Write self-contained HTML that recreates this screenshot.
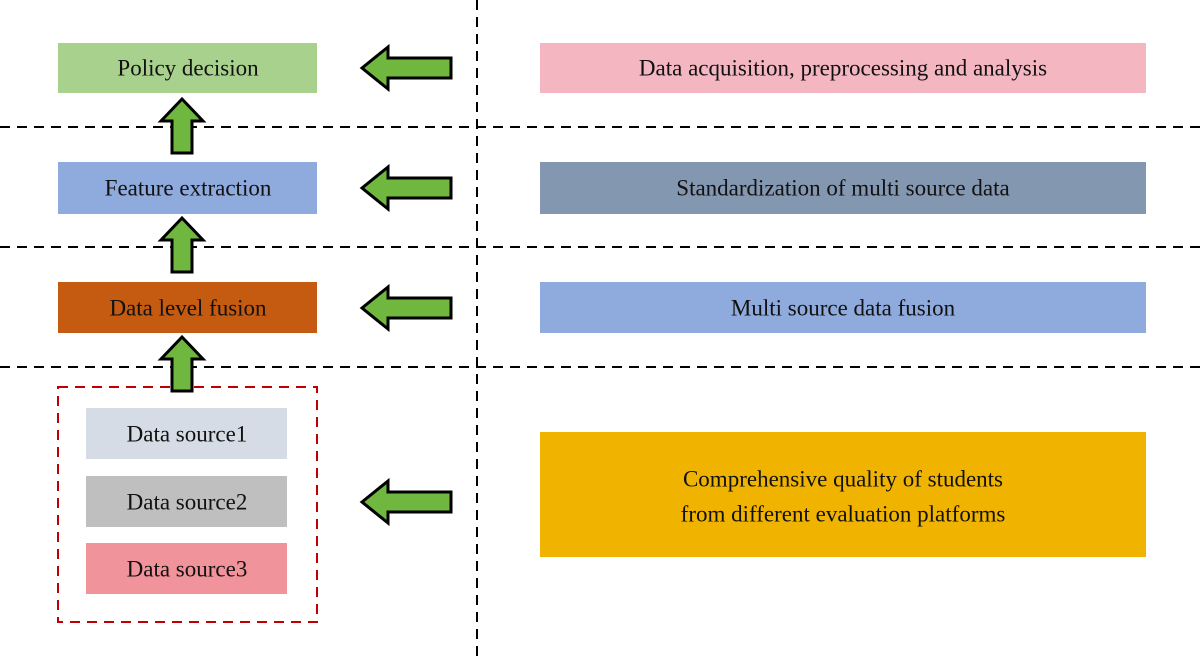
<!DOCTYPE html>
<html><head><meta charset="utf-8"><style>
html,body{margin:0;padding:0;background:#fff;}
svg text{font-family:"Liberation Serif",serif;font-size:23px;fill:#111;text-anchor:middle;dominant-baseline:central;}
</style></head><body>
<svg width="1200" height="660" viewBox="0 0 1200 660" xmlns="http://www.w3.org/2000/svg">
<defs>
<path id="la" d="M0,0 L26,-21 L26,-10 L89,-10 L89,10 L26,10 L26,21 Z" fill="#70b740" stroke="#000" stroke-width="3" stroke-linejoin="miter"/>
<path id="ua" d="M0,0 L21,22 L10,22 L10,54 L-10,54 L-10,22 L-21,22 Z" fill="#70b740" stroke="#000" stroke-width="3"/>
</defs>
<g stroke="#000" stroke-width="2" stroke-dasharray="10,7" fill="none">
<line x1="477" y1="0" x2="477" y2="660"/>
<line x1="0" y1="127" x2="1200" y2="127"/>
<line x1="0" y1="247" x2="1200" y2="247"/>
<line x1="0" y1="367" x2="1200" y2="367"/>
</g>
<rect x="58" y="387" width="259" height="235" fill="none" stroke="#c00000" stroke-width="2" stroke-dasharray="10,7"/>
<rect x="58" y="43" width="259" height="50" fill="#a9d18e"/>
<rect x="58" y="162" width="259" height="52" fill="#8faadc"/>
<rect x="58" y="282" width="259" height="51" fill="#c55a11"/>
<rect x="86" y="408" width="201" height="51" fill="#d6dce5"/>
<rect x="86" y="476" width="201" height="51" fill="#bfbfbf"/>
<rect x="86" y="543" width="201" height="51" fill="#f0939b"/>
<rect x="540" y="43" width="606" height="50" fill="#f4b6c0"/>
<rect x="540" y="162" width="606" height="52" fill="#8497b0"/>
<rect x="540" y="282" width="606" height="51" fill="#8faadc"/>
<rect x="540" y="432" width="606" height="125" fill="#f0b400"/>
<use href="#la" x="362" y="68"/>
<use href="#la" x="362" y="188"/>
<use href="#la" x="362" y="308"/>
<use href="#la" x="362" y="502"/>
<use href="#ua" x="182" y="99"/>
<use href="#ua" x="182" y="218"/>
<use href="#ua" x="182" y="337"/>
<text x="188" y="68">Policy decision</text>
<text x="188" y="188">Feature extraction</text>
<text x="188" y="308">Data level fusion</text>
<text x="187" y="434">Data source1</text>
<text x="187" y="502">Data source2</text>
<text x="187" y="569">Data source3</text>
<text x="843" y="68">Data acquisition, preprocessing and analysis</text>
<text x="843" y="188">Standardization of multi source data</text>
<text x="843" y="308">Multi source data fusion</text>
<text x="843" y="479">Comprehensive quality of students</text>
<text x="843" y="514">from different evaluation platforms</text>
</svg>
</body></html>
